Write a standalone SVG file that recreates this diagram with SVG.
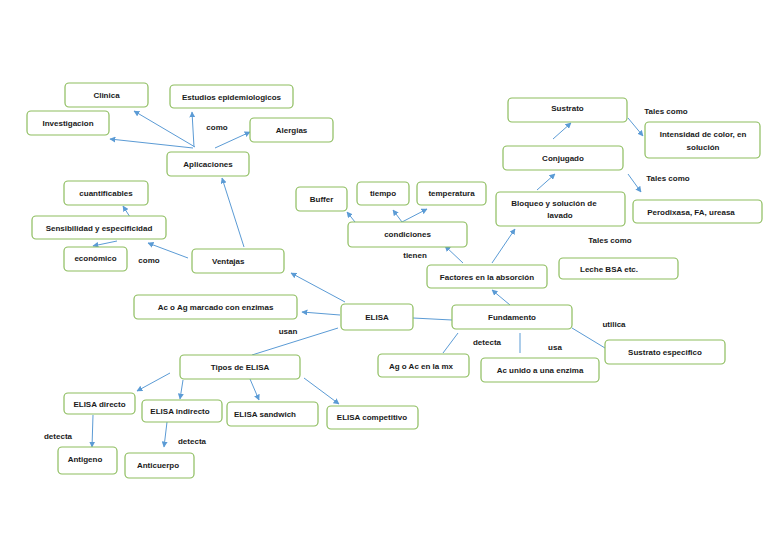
<svg xmlns="http://www.w3.org/2000/svg" width="768" height="543" viewBox="0 0 768 543">
<defs>
<marker id="ah" viewBox="0 0 10 10" refX="9" refY="5" markerWidth="6" markerHeight="6" orient="auto-start-reverse" markerUnits="userSpaceOnUse">
<path d="M0,0 L10,5 L0,10 z" fill="#5b9bd5"/>
</marker>
<style>
.b{fill:#fff;stroke:#8dbd5e;stroke-width:1.2}
.t{font-family:"Liberation Sans",Arial,sans-serif;font-size:8px;font-weight:bold;fill:#1a1a1a;text-anchor:middle}
.l{font-family:"Liberation Sans",Arial,sans-serif;font-size:8px;font-weight:bold;fill:#1a1a1a;text-anchor:middle}
.c line{stroke:#5b9bd5;stroke-width:1}
.a{marker-end:url(#ah)}
</style>
</defs>
<rect width="768" height="543" fill="#fff"/>
<g class="c" id="connectors">
<line class="a" x1="195" y1="147" x2="134" y2="111"/>
<line class="a" x1="193" y1="148" x2="110" y2="139"/>
<line class="a" x1="194" y1="147" x2="192" y2="112"/>
<line class="a" x1="215" y1="148" x2="250" y2="132"/>
<line class="a" x1="244" y1="247" x2="222" y2="178"/>
<line class="a" x1="130" y1="217" x2="123" y2="206"/>
<line class="a" x1="117" y1="241" x2="93" y2="246"/>
<line class="a" x1="188" y1="258" x2="148" y2="243"/>
<line class="a" x1="345" y1="302" x2="291" y2="273"/>
<line class="a" x1="340" y1="315" x2="302" y2="312"/>
<line x1="338" y1="328" x2="252" y2="355"/>
<line x1="413" y1="318" x2="452" y2="320"/>
<line class="a" x1="510" y1="305" x2="492" y2="290"/>
<line x1="458" y1="333" x2="443" y2="353"/>
<line x1="520" y1="333" x2="520" y2="353"/>
<line x1="572" y1="328" x2="605" y2="348"/>
<line class="a" x1="355" y1="222" x2="347" y2="212"/>
<line class="a" x1="402" y1="222" x2="393" y2="210"/>
<line class="a" x1="402" y1="222" x2="427" y2="209"/>
<line class="a" x1="463" y1="263" x2="445" y2="246"/>
<line class="a" x1="492" y1="263" x2="515" y2="229"/>
<line class="a" x1="537" y1="190" x2="555" y2="174"/>
<line class="a" x1="553" y1="139" x2="571" y2="123"/>
<line class="a" x1="628" y1="118" x2="643" y2="136"/>
<line class="a" x1="628" y1="174" x2="641" y2="192"/>
<line class="a" x1="170" y1="373" x2="137" y2="391"/>
<line class="a" x1="183" y1="380" x2="180" y2="399"/>
<line class="a" x1="250" y1="379" x2="259" y2="400"/>
<line class="a" x1="304" y1="378" x2="339" y2="404"/>
<line class="a" x1="93" y1="415" x2="92" y2="447"/>
<line class="a" x1="167" y1="422" x2="164" y2="447"/>
</g>
<g id="n-clinica"><rect class="b" x="65" y="83" width="83" height="24" rx="4"/><text class="t" x="106.5" y="98">Clinica</text></g>
<g id="n-estudios"><rect class="b" x="170" y="85" width="123" height="23" rx="4"/><text class="t" x="231.5" y="99.5">Estudios epidemiologicos</text></g>
<g id="n-investigacion"><rect class="b" x="27" y="111" width="82" height="24" rx="4"/><text class="t" x="68" y="126">Investigacion</text></g>
<g id="n-alergias"><rect class="b" x="250" y="118" width="83" height="24" rx="4"/><text class="t" x="291.5" y="133">Alergias</text></g>
<g id="n-aplicaciones"><rect class="b" x="167" y="152" width="82" height="24" rx="4"/><text class="t" x="208" y="167">Aplicaciones</text></g>
<g id="n-cuantificables"><rect class="b" x="64" y="181" width="84" height="24" rx="4"/><text class="t" x="106" y="196">cuantificables</text></g>
<g id="n-sensibilidad"><rect class="b" x="32" y="216" width="134" height="23" rx="4"/><text class="t" x="99" y="230.5">Sensibilidad y especificidad</text></g>
<g id="n-economico"><rect class="b" x="64" y="247" width="63" height="24" rx="4"/><text class="t" x="95.5" y="261">económico</text></g>
<g id="n-ventajas"><rect class="b" x="192" y="249" width="92" height="24" rx="4"/><text class="t" x="212" y="264" style="text-anchor:start">Ventajas</text></g>
<g id="n-acag"><rect class="b" x="134" y="295" width="163" height="24" rx="4"/><text class="t" x="215.5" y="310">Ac o Ag marcado con enzimas</text></g>
<g id="n-elisa"><rect class="b" x="341" y="304" width="72" height="26" rx="4"/><text class="t" x="377" y="320">ELISA</text></g>
<g id="n-tipos"><rect class="b" x="180" y="355" width="120" height="24" rx="4"/><text class="t" x="240" y="370">Tipos de ELISA</text></g>
<g id="n-fundamento"><rect class="b" x="452" y="305" width="120" height="24" rx="4"/><text class="t" x="512" y="320">Fundamento</text></g>
<g id="n-agac"><rect class="b" x="378" y="354" width="91" height="23" rx="4"/><text class="t" x="421" y="368.5">Ag o Ac en la mx</text></g>
<g id="n-acunido"><rect class="b" x="481" y="358" width="118" height="24" rx="4"/><text class="t" x="540" y="373">Ac unido a una enzima</text></g>
<g id="n-sustratoesp"><rect class="b" x="605" y="340" width="120" height="24" rx="4"/><text class="t" x="665" y="355">Sustrato especifico</text></g>
<g id="n-buffer"><rect class="b" x="296" y="187" width="51" height="24" rx="4"/><text class="t" x="321.5" y="202">Buffer</text></g>
<g id="n-tiempo"><rect class="b" x="357" y="182" width="52" height="23" rx="4"/><text class="t" x="383" y="196">tiempo</text></g>
<g id="n-temperatura"><rect class="b" x="417" y="182" width="69" height="23" rx="4"/><text class="t" x="451.5" y="196">temperatura</text></g>
<g id="n-condiciones"><rect class="b" x="348" y="222" width="119" height="25" rx="4"/><text class="t" x="407.5" y="237">condiciones</text></g>
<g id="n-factores"><rect class="b" x="427" y="265" width="120" height="23" rx="4"/><text class="t" x="487" y="279.5">Factores en la absorción</text></g>
<g id="n-bloqueo"><rect class="b" x="496" y="192" width="129" height="34" rx="4"/><text class="t" x="554" y="206">Bloqueo y solución de</text><text class="t" x="560" y="218">lavado</text></g>
<g id="n-conjugado"><rect class="b" x="503" y="146" width="120" height="24" rx="4"/><text class="t" x="563" y="160.5">Conjugado</text></g>
<g id="n-sustrato"><rect class="b" x="508" y="98" width="119" height="24" rx="4"/><text class="t" x="567.5" y="111">Sustrato</text></g>
<g id="n-intensidad"><rect class="b" x="645" y="122" width="115" height="36" rx="4"/><text class="t" x="703" y="137">Intensidad de color, en</text><text class="t" x="703" y="150">solución</text></g>
<g id="n-perodixasa"><rect class="b" x="633" y="200" width="129" height="23" rx="4"/><text class="t" x="691" y="214.5">Perodixasa, FA, ureasa</text></g>
<g id="n-leche"><rect class="b" x="559" y="258" width="119" height="21" rx="4"/><text class="t" x="609" y="271.5">Leche BSA etc.</text></g>
<g id="n-directo"><rect class="b" x="64" y="393" width="71" height="21" rx="4"/><text class="t" x="99.5" y="407">ELISA directo</text></g>
<g id="n-indirecto"><rect class="b" x="142" y="400" width="80" height="22" rx="4"/><text class="t" x="180" y="414">ELISA indirecto</text></g>
<g id="n-sandwich"><rect class="b" x="227" y="402" width="91" height="24" rx="4"/><text class="t" x="265" y="417">ELISA sandwich</text></g>
<g id="n-competitivo"><rect class="b" x="327" y="406" width="91" height="23" rx="4"/><text class="t" x="372" y="420">ELISA competitivo</text></g>
<g id="n-antigeno"><rect class="b" x="58" y="447" width="59" height="27" rx="4"/><text class="t" x="85" y="462">Antigeno</text></g>
<g id="n-anticuerpo"><rect class="b" x="125" y="453" width="69" height="25" rx="4"/><text class="t" x="158" y="468">Anticuerpo</text></g>
<g id="labels">
<text class="l" x="217" y="130">como</text>
<text class="l" x="149" y="263">como</text>
<text class="l" x="288" y="334">usan</text>
<text class="l" x="415" y="258">tienen</text>
<text class="l" x="487" y="345">detecta</text>
<text class="l" x="555" y="350">usa</text>
<text class="l" x="614" y="327">utilica</text>
<text class="l" x="666" y="114">Tales como</text>
<text class="l" x="668" y="181">Tales como</text>
<text class="l" x="610" y="243">Tales como</text>
<text class="l" x="58" y="439">detecta</text>
<text class="l" x="192" y="444">detecta</text>
</g>
</svg>
